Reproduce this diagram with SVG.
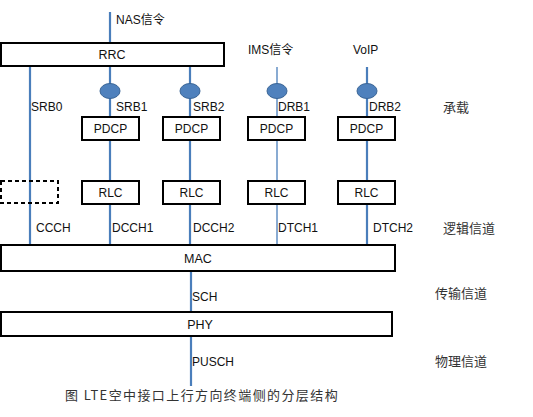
<svg xmlns="http://www.w3.org/2000/svg" width="533" height="417" viewBox="0 0 533 417">
<style>
.box{fill:#fff;stroke:#000;stroke-width:2}
.dash{fill:none;stroke:#000;stroke-width:2;stroke-dasharray:4 3}
.ln{stroke:#4a7ebb;stroke-width:2.2;fill:none}
.thin{stroke:#4a7ebb;stroke-width:1.3;fill:none}
.bear{fill:#4f81bd;stroke:#3a6596;stroke-width:1}
text{font-family:"Liberation Sans","Noto Sans CJK SC",sans-serif;font-size:12px;fill:#111}
.c{text-anchor:middle}
.big{font-size:12.5px}
.cn{font-family:"Noto Sans CJK SC",sans-serif;font-size:13px;fill:#333}
</style>
<rect width="533" height="417" fill="#fff"/>
<g id="connectors">
<line class="ln" x1="110" y1="12" x2="110" y2="43"/>
<line class="ln" x1="30" y1="66" x2="30" y2="245"/>
<line class="ln" x1="110" y1="66" x2="110" y2="245"/>
<line class="ln" x1="190" y1="66" x2="190" y2="245"/>
<line class="thin" x1="277" y1="67" x2="277" y2="245"/>
<line class="ln" x1="367" y1="67" x2="367" y2="245"/>
<line class="ln" x1="191" y1="271" x2="191" y2="312"/>
<line class="ln" x1="191" y1="336" x2="191" y2="386"/>
</g>
<g id="rrc"><rect class="box" x="1" y="43" width="223" height="23"/><text class="c big" x="112" y="59">RRC</text></g>
<g id="bearers">
<ellipse class="bear" cx="110" cy="91" rx="10" ry="7.5"/>
<ellipse class="bear" cx="190" cy="91" rx="10" ry="7.5"/>
<ellipse class="bear" cx="277" cy="91" rx="10" ry="7.5"/>
<ellipse class="bear" cx="367" cy="91" rx="10" ry="7.5"/>
</g>
<g id="pdcp1"><rect class="box" x="82" y="117" width="57" height="23"/><text class="c" x="110.5" y="133">PDCP</text></g>
<g id="pdcp2"><rect class="box" x="163" y="117" width="57" height="23"/><text class="c" x="191.5" y="133">PDCP</text></g>
<g id="pdcp3"><rect class="box" x="248" y="117" width="57" height="23"/><text class="c" x="276.5" y="133">PDCP</text></g>
<g id="pdcp4"><rect class="box" x="338" y="117" width="57" height="23"/><text class="c" x="366.5" y="133">PDCP</text></g>
<g id="rlc0"><rect class="dash" x="1" y="181" width="57" height="22"/></g>
<g id="rlc1"><rect class="box" x="82" y="181" width="57" height="23"/><text class="c" x="110.5" y="197">RLC</text></g>
<g id="rlc2"><rect class="box" x="163" y="181" width="57" height="23"/><text class="c" x="191.5" y="197">RLC</text></g>
<g id="rlc3"><rect class="box" x="248" y="181" width="57" height="23"/><text class="c" x="276.5" y="197">RLC</text></g>
<g id="rlc4"><rect class="box" x="338" y="181" width="57" height="23"/><text class="c" x="366.5" y="197">RLC</text></g>
<g id="mac"><rect class="box" x="1" y="245" width="394" height="26"/><text class="c big" x="198" y="263">MAC</text></g>
<g id="phy"><rect class="box" x="1" y="312" width="391" height="24"/><text class="c big" x="200" y="329">PHY</text></g>
<g id="labels">
<text x="116" y="24">NAS信令</text>
<text x="248" y="54">IMS信令</text>
<text x="353" y="54">VoIP</text>
<text x="31" y="111">SRB0</text>
<text x="116" y="111">SRB1</text>
<text x="193" y="111">SRB2</text>
<text x="278" y="111">DRB1</text>
<text x="369" y="111">DRB2</text>
<text x="36" y="232">CCCH</text>
<text x="112" y="232">DCCH1</text>
<text x="193" y="232">DCCH2</text>
<text x="278" y="232">DTCH1</text>
<text x="373" y="232">DTCH2</text>
<text x="192" y="301">SCH</text>
<text x="192" y="366">PUSCH</text>
<text class="cn" x="443" y="112">承载</text>
<text class="cn" x="443" y="233">逻辑信道</text>
<text class="cn" x="435" y="298">传输信道</text>
<text class="cn" x="435" y="366">物理信道</text>
<text class="cn" x="65" y="400" style="letter-spacing:1.4px">图 LTE空中接口上行方向终端侧的分层结构</text>
</g>
</svg>
